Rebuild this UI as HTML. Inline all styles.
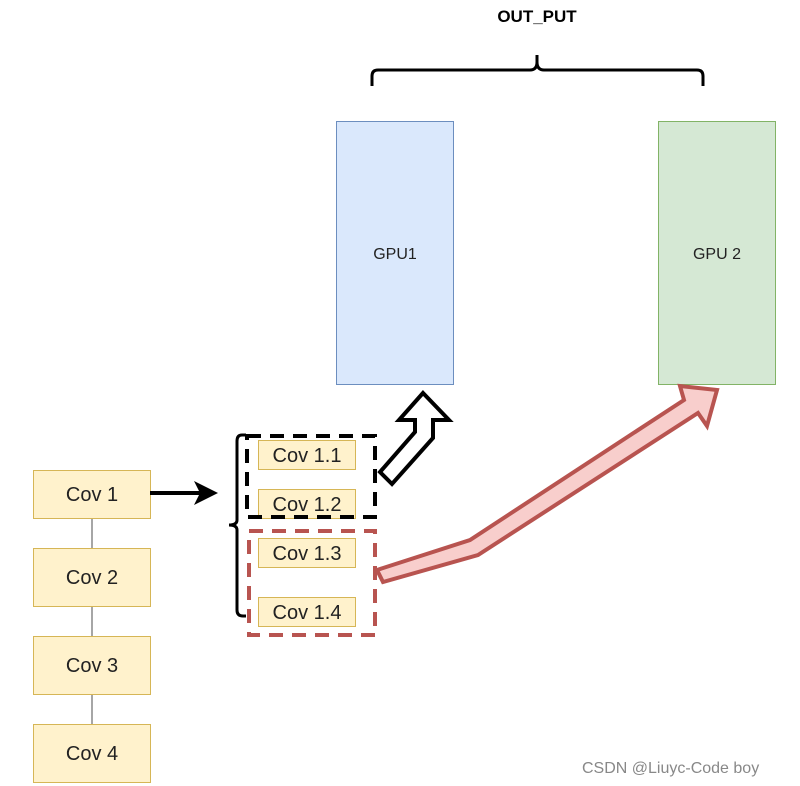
<!DOCTYPE html>
<html><head><meta charset="utf-8"><style>
html,body{margin:0;padding:0;background:#fff;}
svg{display:block;font-family:"Liberation Sans",Arial,sans-serif;}
</style></head><body>
<svg width="800" height="786" viewBox="0 0 800 786" xmlns="http://www.w3.org/2000/svg">
<!-- OUT_PUT -->
<text x="537" y="22" font-size="17" font-weight="bold" text-anchor="middle" fill="#000">OUT_PUT</text>
<path d="M372,86 L372,76 Q372,70 378,70 L530,70 Q537,70 537,62 L537,55 M537,55 L537,62 Q537,70 544,70 L697,70 Q703,70 703,76 L703,86" fill="none" stroke="#000" stroke-width="3"/>
<!-- GPUs -->
<rect x="336.5" y="121.5" width="117" height="263" fill="#dae8fc" stroke="#6c8ebf"/>
<text x="395" y="259" font-size="16" text-anchor="middle" fill="#222">GPU1</text>
<rect x="658.5" y="121.5" width="117" height="263" fill="#d5e8d4" stroke="#82b366"/>
<text x="717" y="259" font-size="16" text-anchor="middle" fill="#222">GPU 2</text>
<!-- Cov column -->
<line x1="92" y1="518" x2="92" y2="724" stroke="#777" stroke-width="1.3"/>
<g fill="#fff2cc" stroke="#d6b656">
<rect x="33.5" y="470.5" width="117" height="48"/>
<rect x="33.5" y="548.5" width="117" height="58"/>
<rect x="33.5" y="636.5" width="117" height="58"/>
<rect x="33.5" y="724.5" width="117" height="58"/>
</g>
<g font-size="20" text-anchor="middle" fill="#222">
<text x="92" y="501">Cov 1</text>
<text x="92" y="584">Cov 2</text>
<text x="92" y="672">Cov 3</text>
<text x="92" y="760">Cov 4</text>
</g>
<!-- arrow cov1 -> brace -->
<line x1="150" y1="493" x2="200" y2="493" stroke="#000" stroke-width="4"/>
<polygon points="218,493 194,481 200,493 194,505" fill="#000"/>
<!-- left brace -->
<path d="M246,435 L242,435 Q237,435 237,441 L237,520 Q237,525 229,525 Q237,525 237,530 L237,610 Q237,616 243,616 L246,616" fill="none" stroke="#000" stroke-width="3"/>
<!-- sub boxes -->
<g fill="#fff2cc" stroke="#d6b656">
<rect x="258.5" y="440.5" width="97" height="29"/>
<rect x="258.5" y="489.5" width="97" height="29"/>
<rect x="258.5" y="538.5" width="97" height="29"/>
<rect x="258.5" y="597.5" width="97" height="29"/>
</g>
<g font-size="20" text-anchor="middle" fill="#222">
<text x="307" y="462">Cov 1.1</text>
<text x="307" y="511">Cov 1.2</text>
<text x="307" y="560">Cov 1.3</text>
<text x="307" y="619">Cov 1.4</text>
</g>
<!-- dashed groups -->
<rect x="247" y="436" width="128" height="81" fill="none" stroke="#000" stroke-width="4" stroke-dasharray="14,9"/>
<rect x="249" y="531" width="126" height="104" fill="none" stroke="#b85450" stroke-width="4" stroke-dasharray="14,9"/>
<!-- hollow black arrow -->
<polygon points="423,393 449,420 433,420 433,438 392,484 380,472 415,432 415,420 399,420" fill="#fff" stroke="#000" stroke-width="4" stroke-linejoin="miter"/>
<!-- red arrow -->
<polygon points="377,570 470,540 684,400 680,386 717,390 707,426 698,413 478,555 383,582" fill="#f8cecc" stroke="#b85450" stroke-width="4"/>
<!-- watermark -->
<text x="582" y="773" font-size="16" fill="#888">CSDN @Liuyc-Code boy</text>
</svg>
</body></html>
